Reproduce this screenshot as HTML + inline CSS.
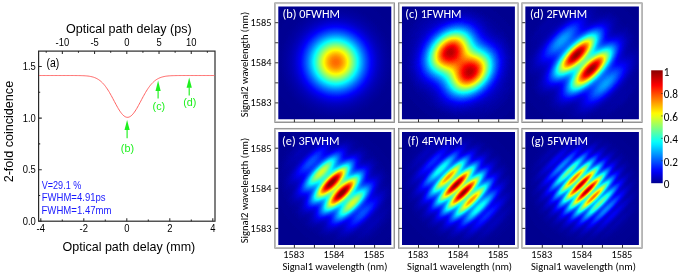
<!DOCTYPE html>
<html><head><meta charset="utf-8"><title>HOM dip and JSI</title><style>
html,body{margin:0;padding:0;background:#fff;width:681px;height:275px;overflow:hidden}
svg{display:block}
.ar{font-family:"Liberation Sans",Arial,Helvetica,sans-serif}
.cal{font-family:Carlito,Calibri,"Liberation Sans",sans-serif}
</style></head><body>
<svg width="681" height="275" viewBox="0 0 681 275">
<defs>
<filter id="jet0" x="0" y="0" width="1" height="1" color-interpolation-filters="sRGB"><feComponentTransfer><feFuncR type="table" tableValues="0 0 0 0 0 0 0 0 0 0 0 0 0 0 0 0 0 0 0 0 0 0 0 0 0 0 0 0 0 0 0 0 0 0 0 0 0 0 0 0 0 0 0 0 0 0 0.0156 0.0472 0.0787 0.1103 0.1419 0.1735 0.2051 0.2366 0.2682 0.2998 0.3314 0.3629 0.3945 0.4261 0.4577 0.4893 0.5208 0.5524 0.584 0.6156 0.6471 0.6787 0.7103 0.7419 0.7735 0.805 0.8366 0.8682 0.8998 0.9313 0.9629 0.9945 1 1 1 1 1 1 1 1 1 1 1 1 1 1 1 1 1 1 1"/><feFuncG type="table" tableValues="0 0 0 0 0 0 0 0 0 0 0 0 0 0 0.0051 0.0367 0.0682 0.0998 0.1314 0.163 0.1946 0.2261 0.2577 0.2893 0.3209 0.3524 0.384 0.4156 0.4472 0.4788 0.5103 0.5419 0.5735 0.6051 0.6366 0.6682 0.6998 0.7314 0.763 0.7945 0.8261 0.8577 0.8893 0.9208 0.9524 0.984 1 1 1 1 1 1 1 1 1 1 1 1 1 1 1 1 1 1 1 1 1 1 1 1 1 1 1 1 1 1 1 1 0.9739 0.9423 0.9108 0.8792 0.8476 0.816 0.7844 0.7529 0.7213 0.6897 0.6581 0.6266 0.595 0.5634 0.5318 0.5002 0.4687 0.4371 0.4055"/><feFuncB type="table" tableValues="0.5625 0.5941 0.6257 0.6573 0.689 0.7206 0.7522 0.7838 0.8154 0.847 0.8786 0.9103 0.9419 0.9735 1 1 1 1 1 1 1 1 1 1 1 1 1 1 1 1 1 1 1 1 1 1 1 1 1 1 1 1 1 1 1 1 0.9844 0.9528 0.9213 0.8897 0.8581 0.8265 0.7949 0.7634 0.7318 0.7002 0.6686 0.6371 0.6055 0.5739 0.5423 0.5107 0.4792 0.4476 0.416 0.3844 0.3529 0.3213 0.2897 0.2581 0.2265 0.195 0.1634 0.1318 0.1002 0.0687 0.0371 0.0055 0 0 0 0 0 0 0 0 0 0 0 0 0 0 0 0 0 0 0"/></feComponentTransfer></filter>
<radialGradient id="env0" gradientUnits="userSpaceOnUse" cx="0" cy="0" r="1" gradientTransform="translate(335.80 62.10) rotate(45) scale(66.19 66.19)"><stop offset="0.0000" stop-color="#ffffff"/><stop offset="0.0417" stop-color="#fcfcfc"/><stop offset="0.0833" stop-color="#f3f3f3"/><stop offset="0.1250" stop-color="#e5e5e5"/><stop offset="0.1667" stop-color="#d3d3d3"/><stop offset="0.2083" stop-color="#bebebe"/><stop offset="0.2500" stop-color="#a7a7a7"/><stop offset="0.2917" stop-color="#8f8f8f"/><stop offset="0.3333" stop-color="#787878"/><stop offset="0.3750" stop-color="#636363"/><stop offset="0.4167" stop-color="#4f4f4f"/><stop offset="0.4583" stop-color="#3e3e3e"/><stop offset="0.5000" stop-color="#2f2f2f"/><stop offset="0.5417" stop-color="#232323"/><stop offset="0.5833" stop-color="#1a1a1a"/><stop offset="0.6250" stop-color="#121212"/><stop offset="0.6667" stop-color="#0d0d0d"/><stop offset="0.7083" stop-color="#090909"/><stop offset="0.7500" stop-color="#060606"/><stop offset="0.7917" stop-color="#040404"/><stop offset="0.8333" stop-color="#020202"/><stop offset="0.8750" stop-color="#010101"/><stop offset="0.9167" stop-color="#010101"/><stop offset="0.9583" stop-color="#010101"/><stop offset="1.0000" stop-color="#000000"/></radialGradient>
<clipPath id="cp0"><rect x="278.3" y="6.6" width="113.0" height="112.6"/></clipPath>
<filter id="jet1" x="0" y="0" width="1" height="1" color-interpolation-filters="sRGB"><feComponentTransfer><feFuncR type="table" tableValues="0 0 0 0 0 0 0 0 0 0 0 0 0 0 0 0 0 0 0 0 0 0 0 0 0.0147 0.0752 0.1356 0.1961 0.2566 0.3171 0.3776 0.4381 0.4986 0.559 0.6195 0.68 0.7405 0.801 0.8615 0.922 0.9824 1 1 1 1 1 1 1 1 1 1 1 1 1 1 1 1 0.9906 0.9377 0.8848 0.8318 0.7789 0.726 0.6731 0.6201 0.5672 0.5625 0.5625 0.5625 0.5625 0.5625 0.5625 0.5625 0.5625 0.5625 0.5625 0.5625 0.5625 0.5625 0.5625 0.5625 0.5625 0.5625 0.5625 0.5625 0.5625 0.5625 0.5625 0.5625 0.5625 0.5625 0.5625 0.5625 0.5625 0.5625 0.5625 0.5625"/><feFuncG type="table" tableValues="0 0 0 0 0 0 0 0 0.0469 0.1074 0.1679 0.2283 0.2888 0.3493 0.4098 0.4703 0.5308 0.5913 0.6517 0.7122 0.7727 0.8332 0.8937 0.9542 1 1 1 1 1 1 1 1 1 1 1 1 1 1 1 1 1 0.9571 0.8966 0.8361 0.7756 0.7151 0.6546 0.5941 0.5337 0.4732 0.4127 0.3522 0.2917 0.2312 0.1707 0.1103 0.0498 0 0 0 0 0 0 0 0 0 0 0 0 0 0 0 0 0 0 0 0 0 0 0 0 0 0 0 0 0 0 0 0 0 0 0 0 0 0 0 0"/><feFuncB type="table" tableValues="0.5625 0.6231 0.6836 0.7442 0.8047 0.8653 0.9258 0.9864 1 1 1 1 1 1 1 1 1 1 1 1 1 1 1 1 0.9853 0.9248 0.8644 0.8039 0.7434 0.6829 0.6224 0.5619 0.5014 0.441 0.3805 0.32 0.2595 0.199 0.1385 0.078 0.0176 0 0 0 0 0 0 0 0 0 0 0 0 0 0 0 0 0 0 0 0 0 0 0 0 0 0 0 0 0 0 0 0 0 0 0 0 0 0 0 0 0 0 0 0 0 0 0 0 0 0 0 0 0 0 0 0"/></feComponentTransfer></filter>
<radialGradient id="env1" gradientUnits="userSpaceOnUse" cx="0" cy="0" r="1" gradientTransform="translate(460.05 62.10) rotate(45) scale(71.70 62.51)"><stop offset="0.0000" stop-color="#ffffff"/><stop offset="0.0417" stop-color="#fcfcfc"/><stop offset="0.0833" stop-color="#f3f3f3"/><stop offset="0.1250" stop-color="#e5e5e5"/><stop offset="0.1667" stop-color="#d3d3d3"/><stop offset="0.2083" stop-color="#bebebe"/><stop offset="0.2500" stop-color="#a7a7a7"/><stop offset="0.2917" stop-color="#8f8f8f"/><stop offset="0.3333" stop-color="#787878"/><stop offset="0.3750" stop-color="#636363"/><stop offset="0.4167" stop-color="#4f4f4f"/><stop offset="0.4583" stop-color="#3e3e3e"/><stop offset="0.5000" stop-color="#2f2f2f"/><stop offset="0.5417" stop-color="#232323"/><stop offset="0.5833" stop-color="#1a1a1a"/><stop offset="0.6250" stop-color="#121212"/><stop offset="0.6667" stop-color="#0d0d0d"/><stop offset="0.7083" stop-color="#090909"/><stop offset="0.7500" stop-color="#060606"/><stop offset="0.7917" stop-color="#040404"/><stop offset="0.8333" stop-color="#020202"/><stop offset="0.8750" stop-color="#010101"/><stop offset="0.9167" stop-color="#010101"/><stop offset="0.9583" stop-color="#010101"/><stop offset="1.0000" stop-color="#000000"/></radialGradient>
<clipPath id="cp1"><rect x="401.95" y="6.6" width="112.95" height="112.6"/></clipPath>
<linearGradient id="fr1" gradientUnits="userSpaceOnUse" spreadMethod="repeat" x1="460.05" y1="62.10" x2="492.93" y2="94.98"><stop offset="0.0000" stop-color="#898989"/><stop offset="0.0417" stop-color="#8b8b8b"/><stop offset="0.0833" stop-color="#919191"/><stop offset="0.1250" stop-color="#9b9b9b"/><stop offset="0.1667" stop-color="#a7a7a7"/><stop offset="0.2083" stop-color="#b5b5b5"/><stop offset="0.2500" stop-color="#c4c4c4"/><stop offset="0.2917" stop-color="#d3d3d3"/><stop offset="0.3333" stop-color="#e2e2e2"/><stop offset="0.3750" stop-color="#eeeeee"/><stop offset="0.4167" stop-color="#f7f7f7"/><stop offset="0.4583" stop-color="#fdfdfd"/><stop offset="0.5000" stop-color="#ffffff"/><stop offset="0.5417" stop-color="#fdfdfd"/><stop offset="0.5833" stop-color="#f7f7f7"/><stop offset="0.6250" stop-color="#eeeeee"/><stop offset="0.6667" stop-color="#e2e2e2"/><stop offset="0.7083" stop-color="#d3d3d3"/><stop offset="0.7500" stop-color="#c4c4c4"/><stop offset="0.7917" stop-color="#b5b5b5"/><stop offset="0.8333" stop-color="#a7a7a7"/><stop offset="0.8750" stop-color="#9b9b9b"/><stop offset="0.9167" stop-color="#919191"/><stop offset="0.9583" stop-color="#8b8b8b"/><stop offset="1.0000" stop-color="#898989"/></linearGradient>
<filter id="jet2" x="0" y="0" width="1" height="1" color-interpolation-filters="sRGB"><feComponentTransfer><feFuncR type="table" tableValues="0 0 0 0 0 0 0 0 0 0 0 0 0 0 0 0 0 0 0 0 0 0 0 0 0 0 0 0 0 0 0.0144 0.0628 0.1111 0.1595 0.2079 0.2563 0.3047 0.353 0.4014 0.4498 0.4982 0.5465 0.5949 0.6433 0.6917 0.7401 0.7884 0.8368 0.8852 0.9336 0.982 1 1 1 1 1 1 1 1 1 1 1 1 1 1 1 1 1 1 1 1 1 0.9595 0.9171 0.8748 0.8325 0.7902 0.7478 0.7055 0.6632 0.6208 0.5785 0.5625 0.5625 0.5625 0.5625 0.5625 0.5625 0.5625 0.5625 0.5625 0.5625 0.5625 0.5625 0.5625 0.5625 0.5625"/><feFuncG type="table" tableValues="0 0 0 0 0 0 0 0 0 0 0.0468 0.0952 0.1435 0.1919 0.2403 0.2887 0.3371 0.3854 0.4338 0.4822 0.5306 0.579 0.6273 0.6757 0.7241 0.7725 0.8209 0.8692 0.9176 0.966 1 1 1 1 1 1 1 1 1 1 1 1 1 1 1 1 1 1 1 1 1 0.9697 0.9213 0.8729 0.8245 0.7761 0.7278 0.6794 0.631 0.5826 0.5342 0.4859 0.4375 0.3891 0.3407 0.2923 0.244 0.1956 0.1472 0.0988 0.0504 0.0021 0 0 0 0 0 0 0 0 0 0 0 0 0 0 0 0 0 0 0 0 0 0 0 0 0"/><feFuncB type="table" tableValues="0.5625 0.6109 0.6594 0.7078 0.7562 0.8047 0.8531 0.9015 0.95 0.9984 1 1 1 1 1 1 1 1 1 1 1 1 1 1 1 1 1 1 1 1 0.9856 0.9372 0.8889 0.8405 0.7921 0.7437 0.6953 0.647 0.5986 0.5502 0.5018 0.4535 0.4051 0.3567 0.3083 0.2599 0.2116 0.1632 0.1148 0.0664 0.018 0 0 0 0 0 0 0 0 0 0 0 0 0 0 0 0 0 0 0 0 0 0 0 0 0 0 0 0 0 0 0 0 0 0 0 0 0 0 0 0 0 0 0 0 0 0"/></feComponentTransfer></filter>
<radialGradient id="env2" gradientUnits="userSpaceOnUse" cx="0" cy="0" r="1" gradientTransform="translate(583.75 62.10) rotate(45) scale(69.86 68.02)"><stop offset="0.0000" stop-color="#ffffff"/><stop offset="0.0417" stop-color="#fcfcfc"/><stop offset="0.0833" stop-color="#f3f3f3"/><stop offset="0.1250" stop-color="#e5e5e5"/><stop offset="0.1667" stop-color="#d3d3d3"/><stop offset="0.2083" stop-color="#bebebe"/><stop offset="0.2500" stop-color="#a7a7a7"/><stop offset="0.2917" stop-color="#8f8f8f"/><stop offset="0.3333" stop-color="#787878"/><stop offset="0.3750" stop-color="#636363"/><stop offset="0.4167" stop-color="#4f4f4f"/><stop offset="0.4583" stop-color="#3e3e3e"/><stop offset="0.5000" stop-color="#2f2f2f"/><stop offset="0.5417" stop-color="#232323"/><stop offset="0.5833" stop-color="#1a1a1a"/><stop offset="0.6250" stop-color="#121212"/><stop offset="0.6667" stop-color="#0d0d0d"/><stop offset="0.7083" stop-color="#090909"/><stop offset="0.7500" stop-color="#060606"/><stop offset="0.7917" stop-color="#040404"/><stop offset="0.8333" stop-color="#020202"/><stop offset="0.8750" stop-color="#010101"/><stop offset="0.9167" stop-color="#010101"/><stop offset="0.9583" stop-color="#010101"/><stop offset="1.0000" stop-color="#000000"/></radialGradient>
<clipPath id="cp2"><rect x="525.35" y="6.6" width="113.55" height="112.6"/></clipPath>
<linearGradient id="fr2" gradientUnits="userSpaceOnUse" spreadMethod="repeat" x1="583.75" y1="62.10" x2="600.15" y2="78.50"><stop offset="0.0000" stop-color="#686868"/><stop offset="0.0417" stop-color="#6b6b6b"/><stop offset="0.0833" stop-color="#727272"/><stop offset="0.1250" stop-color="#7e7e7e"/><stop offset="0.1667" stop-color="#8e8e8e"/><stop offset="0.2083" stop-color="#a0a0a0"/><stop offset="0.2500" stop-color="#b4b4b4"/><stop offset="0.2917" stop-color="#c7c7c7"/><stop offset="0.3333" stop-color="#d9d9d9"/><stop offset="0.3750" stop-color="#e9e9e9"/><stop offset="0.4167" stop-color="#f5f5f5"/><stop offset="0.4583" stop-color="#fcfcfc"/><stop offset="0.5000" stop-color="#ffffff"/><stop offset="0.5417" stop-color="#fcfcfc"/><stop offset="0.5833" stop-color="#f5f5f5"/><stop offset="0.6250" stop-color="#e9e9e9"/><stop offset="0.6667" stop-color="#d9d9d9"/><stop offset="0.7083" stop-color="#c7c7c7"/><stop offset="0.7500" stop-color="#b4b4b4"/><stop offset="0.7917" stop-color="#a0a0a0"/><stop offset="0.8333" stop-color="#8e8e8e"/><stop offset="0.8750" stop-color="#7e7e7e"/><stop offset="0.9167" stop-color="#727272"/><stop offset="0.9583" stop-color="#6b6b6b"/><stop offset="1.0000" stop-color="#686868"/></linearGradient>
<filter id="jet3" x="0" y="0" width="1" height="1" color-interpolation-filters="sRGB"><feComponentTransfer><feFuncR type="table" tableValues="0 0 0 0 0 0 0 0 0 0 0 0 0 0 0 0 0 0 0 0 0 0 0 0 0 0 0 0 0 0 0 0 0.0136 0.059 0.1043 0.1496 0.195 0.2403 0.2856 0.331 0.3763 0.4216 0.467 0.5123 0.5576 0.603 0.6483 0.6936 0.739 0.7843 0.8296 0.875 0.9203 0.9656 1 1 1 1 1 1 1 1 1 1 1 1 1 1 1 1 1 1 1 1 1 1 0.9928 0.9531 0.9134 0.8738 0.8341 0.7944 0.7548 0.7151 0.6754 0.6358 0.5961 0.5625 0.5625 0.5625 0.5625 0.5625 0.5625 0.5625 0.5625 0.5625 0.5625"/><feFuncG type="table" tableValues="0 0 0 0 0 0 0 0 0 0 0.0163 0.0617 0.107 0.1523 0.1977 0.243 0.2883 0.3336 0.379 0.4243 0.4696 0.515 0.5603 0.6056 0.651 0.6963 0.7416 0.787 0.8323 0.8776 0.923 0.9683 1 1 1 1 1 1 1 1 1 1 1 1 1 1 1 1 1 1 1 1 1 1 0.989 0.9437 0.8984 0.853 0.8077 0.7624 0.717 0.6717 0.6264 0.581 0.5357 0.4904 0.445 0.3997 0.3544 0.309 0.2637 0.2184 0.173 0.1277 0.0824 0.0371 0 0 0 0 0 0 0 0 0 0 0 0 0 0 0 0 0 0 0 0 0"/><feFuncB type="table" tableValues="0.5625 0.6079 0.6533 0.6987 0.744 0.7894 0.8348 0.8802 0.9256 0.971 1 1 1 1 1 1 1 1 1 1 1 1 1 1 1 1 1 1 1 1 1 1 0.9864 0.941 0.8957 0.8504 0.805 0.7597 0.7144 0.669 0.6237 0.5784 0.533 0.4877 0.4424 0.397 0.3517 0.3064 0.261 0.2157 0.1704 0.125 0.0797 0.0344 0 0 0 0 0 0 0 0 0 0 0 0 0 0 0 0 0 0 0 0 0 0 0 0 0 0 0 0 0 0 0 0 0 0 0 0 0 0 0 0 0 0 0"/></feComponentTransfer></filter>
<radialGradient id="env3" gradientUnits="userSpaceOnUse" cx="0" cy="0" r="1" gradientTransform="translate(336.90 187.60) rotate(45) scale(73.54 58.83)"><stop offset="0.0000" stop-color="#ffffff"/><stop offset="0.0417" stop-color="#fcfcfc"/><stop offset="0.0833" stop-color="#f3f3f3"/><stop offset="0.1250" stop-color="#e5e5e5"/><stop offset="0.1667" stop-color="#d3d3d3"/><stop offset="0.2083" stop-color="#bebebe"/><stop offset="0.2500" stop-color="#a7a7a7"/><stop offset="0.2917" stop-color="#8f8f8f"/><stop offset="0.3333" stop-color="#787878"/><stop offset="0.3750" stop-color="#636363"/><stop offset="0.4167" stop-color="#4f4f4f"/><stop offset="0.4583" stop-color="#3e3e3e"/><stop offset="0.5000" stop-color="#2f2f2f"/><stop offset="0.5417" stop-color="#232323"/><stop offset="0.5833" stop-color="#1a1a1a"/><stop offset="0.6250" stop-color="#121212"/><stop offset="0.6667" stop-color="#0d0d0d"/><stop offset="0.7083" stop-color="#090909"/><stop offset="0.7500" stop-color="#060606"/><stop offset="0.7917" stop-color="#040404"/><stop offset="0.8333" stop-color="#020202"/><stop offset="0.8750" stop-color="#010101"/><stop offset="0.9167" stop-color="#010101"/><stop offset="0.9583" stop-color="#010101"/><stop offset="1.0000" stop-color="#000000"/></radialGradient>
<clipPath id="cp3"><rect x="278.3" y="132.1" width="113.0" height="112.8"/></clipPath>
<linearGradient id="fr3" gradientUnits="userSpaceOnUse" spreadMethod="repeat" x1="336.90" y1="187.60" x2="347.86" y2="198.56"><stop offset="0.0000" stop-color="#838383"/><stop offset="0.0417" stop-color="#858585"/><stop offset="0.0833" stop-color="#8c8c8c"/><stop offset="0.1250" stop-color="#959595"/><stop offset="0.1667" stop-color="#a2a2a2"/><stop offset="0.2083" stop-color="#b1b1b1"/><stop offset="0.2500" stop-color="#c1c1c1"/><stop offset="0.2917" stop-color="#d1d1d1"/><stop offset="0.3333" stop-color="#e0e0e0"/><stop offset="0.3750" stop-color="#ededed"/><stop offset="0.4167" stop-color="#f7f7f7"/><stop offset="0.4583" stop-color="#fdfdfd"/><stop offset="0.5000" stop-color="#ffffff"/><stop offset="0.5417" stop-color="#fdfdfd"/><stop offset="0.5833" stop-color="#f7f7f7"/><stop offset="0.6250" stop-color="#ededed"/><stop offset="0.6667" stop-color="#e0e0e0"/><stop offset="0.7083" stop-color="#d1d1d1"/><stop offset="0.7500" stop-color="#c1c1c1"/><stop offset="0.7917" stop-color="#b1b1b1"/><stop offset="0.8333" stop-color="#a2a2a2"/><stop offset="0.8750" stop-color="#959595"/><stop offset="0.9167" stop-color="#8c8c8c"/><stop offset="0.9583" stop-color="#858585"/><stop offset="1.0000" stop-color="#838383"/></linearGradient>
<filter id="jet4" x="0" y="0" width="1" height="1" color-interpolation-filters="sRGB"><feComponentTransfer><feFuncR type="table" tableValues="0 0 0 0 0 0 0 0 0 0 0 0 0 0 0 0 0 0 0 0 0 0 0 0 0 0 0 0 0 0 0 0 0 0 0.0138 0.0565 0.0992 0.1418 0.1845 0.2272 0.2698 0.3125 0.3552 0.3978 0.4405 0.4832 0.5259 0.5685 0.6112 0.6539 0.6965 0.7392 0.7819 0.8246 0.8672 0.9099 0.9526 0.9952 1 1 1 1 1 1 1 1 1 1 1 1 1 1 1 1 1 1 1 1 1 1 1 0.9831 0.9457 0.9084 0.8711 0.8337 0.7964 0.759 0.7217 0.6844 0.647 0.6097 0.5724 0.5625 0.5625 0.5625 0.5625"/><feFuncG type="table" tableValues="0 0 0 0 0 0 0 0 0 0 0 0.0324 0.075 0.1177 0.1604 0.2031 0.2457 0.2884 0.3311 0.3737 0.4164 0.4591 0.5018 0.5444 0.5871 0.6298 0.6724 0.7151 0.7578 0.8005 0.8431 0.8858 0.9285 0.9711 1 1 1 1 1 1 1 1 1 1 1 1 1 1 1 1 1 1 1 1 1 1 1 1 0.9621 0.9194 0.8767 0.8341 0.7914 0.7487 0.7061 0.6634 0.6207 0.578 0.5354 0.4927 0.45 0.4074 0.3647 0.322 0.2793 0.2367 0.194 0.1513 0.1087 0.066 0.0233 0 0 0 0 0 0 0 0 0 0 0 0 0 0 0 0"/><feFuncB type="table" tableValues="0.5625 0.6052 0.6479 0.6907 0.7334 0.7761 0.8188 0.8615 0.9043 0.947 0.9897 1 1 1 1 1 1 1 1 1 1 1 1 1 1 1 1 1 1 1 1 1 1 1 0.9862 0.9435 0.9008 0.8582 0.8155 0.7728 0.7302 0.6875 0.6448 0.6022 0.5595 0.5168 0.4741 0.4315 0.3888 0.3461 0.3035 0.2608 0.2181 0.1754 0.1328 0.0901 0.0474 0.0048 0 0 0 0 0 0 0 0 0 0 0 0 0 0 0 0 0 0 0 0 0 0 0 0 0 0 0 0 0 0 0 0 0 0 0 0 0 0 0"/></feComponentTransfer></filter>
<radialGradient id="env4" gradientUnits="userSpaceOnUse" cx="0" cy="0" r="1" gradientTransform="translate(459.95 188.50) rotate(45) scale(72.44 61.77)"><stop offset="0.0000" stop-color="#ffffff"/><stop offset="0.0417" stop-color="#fcfcfc"/><stop offset="0.0833" stop-color="#f3f3f3"/><stop offset="0.1250" stop-color="#e5e5e5"/><stop offset="0.1667" stop-color="#d3d3d3"/><stop offset="0.2083" stop-color="#bebebe"/><stop offset="0.2500" stop-color="#a7a7a7"/><stop offset="0.2917" stop-color="#8f8f8f"/><stop offset="0.3333" stop-color="#787878"/><stop offset="0.3750" stop-color="#636363"/><stop offset="0.4167" stop-color="#4f4f4f"/><stop offset="0.4583" stop-color="#3e3e3e"/><stop offset="0.5000" stop-color="#2f2f2f"/><stop offset="0.5417" stop-color="#232323"/><stop offset="0.5833" stop-color="#1a1a1a"/><stop offset="0.6250" stop-color="#121212"/><stop offset="0.6667" stop-color="#0d0d0d"/><stop offset="0.7083" stop-color="#090909"/><stop offset="0.7500" stop-color="#060606"/><stop offset="0.7917" stop-color="#040404"/><stop offset="0.8333" stop-color="#020202"/><stop offset="0.8750" stop-color="#010101"/><stop offset="0.9167" stop-color="#010101"/><stop offset="0.9583" stop-color="#010101"/><stop offset="1.0000" stop-color="#000000"/></radialGradient>
<clipPath id="cp4"><rect x="401.95" y="132.1" width="112.95" height="112.8"/></clipPath>
<linearGradient id="fr4" gradientUnits="userSpaceOnUse" spreadMethod="repeat" x1="459.95" y1="188.50" x2="467.94" y2="196.49"><stop offset="0.0000" stop-color="#898989"/><stop offset="0.0417" stop-color="#8b8b8b"/><stop offset="0.0833" stop-color="#919191"/><stop offset="0.1250" stop-color="#9b9b9b"/><stop offset="0.1667" stop-color="#a7a7a7"/><stop offset="0.2083" stop-color="#b5b5b5"/><stop offset="0.2500" stop-color="#c4c4c4"/><stop offset="0.2917" stop-color="#d3d3d3"/><stop offset="0.3333" stop-color="#e2e2e2"/><stop offset="0.3750" stop-color="#eeeeee"/><stop offset="0.4167" stop-color="#f7f7f7"/><stop offset="0.4583" stop-color="#fdfdfd"/><stop offset="0.5000" stop-color="#ffffff"/><stop offset="0.5417" stop-color="#fdfdfd"/><stop offset="0.5833" stop-color="#f7f7f7"/><stop offset="0.6250" stop-color="#eeeeee"/><stop offset="0.6667" stop-color="#e2e2e2"/><stop offset="0.7083" stop-color="#d3d3d3"/><stop offset="0.7500" stop-color="#c4c4c4"/><stop offset="0.7917" stop-color="#b5b5b5"/><stop offset="0.8333" stop-color="#a7a7a7"/><stop offset="0.8750" stop-color="#9b9b9b"/><stop offset="0.9167" stop-color="#919191"/><stop offset="0.9583" stop-color="#8b8b8b"/><stop offset="1.0000" stop-color="#898989"/></linearGradient>
<filter id="jet5" x="0" y="0" width="1" height="1" color-interpolation-filters="sRGB"><feComponentTransfer><feFuncR type="table" tableValues="0 0 0 0 0 0 0 0 0 0 0 0 0 0 0 0 0 0 0 0 0 0 0 0 0 0 0 0 0 0 0 0 0 0 0 0 0.0219 0.0624 0.1029 0.1434 0.184 0.2245 0.265 0.3055 0.3461 0.3866 0.4271 0.4676 0.5082 0.5487 0.5892 0.6297 0.6702 0.7108 0.7513 0.7918 0.8323 0.8729 0.9134 0.9539 0.9944 1 1 1 1 1 1 1 1 1 1 1 1 1 1 1 1 1 1 1 1 1 1 1 1 0.9934 0.9579 0.9225 0.887 0.8516 0.8161 0.7806 0.7452 0.7097 0.6743 0.6388 0.6034"/><feFuncG type="table" tableValues="0 0 0 0 0 0 0 0 0 0 0 0.0088 0.0493 0.0898 0.1303 0.1709 0.2114 0.2519 0.2924 0.333 0.3735 0.414 0.4545 0.495 0.5356 0.5761 0.6166 0.6571 0.6977 0.7382 0.7787 0.8192 0.8598 0.9003 0.9408 0.9813 1 1 1 1 1 1 1 1 1 1 1 1 1 1 1 1 1 1 1 1 1 1 1 1 1 0.965 0.9245 0.884 0.8435 0.8029 0.7624 0.7219 0.6814 0.6408 0.6003 0.5598 0.5193 0.4787 0.4382 0.3977 0.3572 0.3166 0.2761 0.2356 0.1951 0.1546 0.114 0.0735 0.033 0 0 0 0 0 0 0 0 0 0 0 0"/><feFuncB type="table" tableValues="0.5625 0.6031 0.6436 0.6842 0.7248 0.7653 0.8059 0.8465 0.8871 0.9276 0.9682 1 1 1 1 1 1 1 1 1 1 1 1 1 1 1 1 1 1 1 1 1 1 1 1 1 0.9781 0.9376 0.8971 0.8566 0.816 0.7755 0.735 0.6945 0.6539 0.6134 0.5729 0.5324 0.4918 0.4513 0.4108 0.3703 0.3298 0.2892 0.2487 0.2082 0.1677 0.1271 0.0866 0.0461 0.0056 0 0 0 0 0 0 0 0 0 0 0 0 0 0 0 0 0 0 0 0 0 0 0 0 0 0 0 0 0 0 0 0 0 0 0 0"/></feComponentTransfer></filter>
<radialGradient id="env5" gradientUnits="userSpaceOnUse" cx="0" cy="0" r="1" gradientTransform="translate(584.05 187.60) rotate(45) scale(68.76 62.51)"><stop offset="0.0000" stop-color="#ffffff"/><stop offset="0.0417" stop-color="#fcfcfc"/><stop offset="0.0833" stop-color="#f3f3f3"/><stop offset="0.1250" stop-color="#e5e5e5"/><stop offset="0.1667" stop-color="#d3d3d3"/><stop offset="0.2083" stop-color="#bebebe"/><stop offset="0.2500" stop-color="#a7a7a7"/><stop offset="0.2917" stop-color="#8f8f8f"/><stop offset="0.3333" stop-color="#787878"/><stop offset="0.3750" stop-color="#636363"/><stop offset="0.4167" stop-color="#4f4f4f"/><stop offset="0.4583" stop-color="#3e3e3e"/><stop offset="0.5000" stop-color="#2f2f2f"/><stop offset="0.5417" stop-color="#232323"/><stop offset="0.5833" stop-color="#1a1a1a"/><stop offset="0.6250" stop-color="#121212"/><stop offset="0.6667" stop-color="#0d0d0d"/><stop offset="0.7083" stop-color="#090909"/><stop offset="0.7500" stop-color="#060606"/><stop offset="0.7917" stop-color="#040404"/><stop offset="0.8333" stop-color="#020202"/><stop offset="0.8750" stop-color="#010101"/><stop offset="0.9167" stop-color="#010101"/><stop offset="0.9583" stop-color="#010101"/><stop offset="1.0000" stop-color="#000000"/></radialGradient>
<clipPath id="cp5"><rect x="525.35" y="132.1" width="113.55" height="112.8"/></clipPath>
<linearGradient id="fr5" gradientUnits="userSpaceOnUse" spreadMethod="repeat" x1="584.05" y1="187.60" x2="590.48" y2="194.03"><stop offset="0.0000" stop-color="#838383"/><stop offset="0.0417" stop-color="#858585"/><stop offset="0.0833" stop-color="#8c8c8c"/><stop offset="0.1250" stop-color="#959595"/><stop offset="0.1667" stop-color="#a2a2a2"/><stop offset="0.2083" stop-color="#b1b1b1"/><stop offset="0.2500" stop-color="#c1c1c1"/><stop offset="0.2917" stop-color="#d1d1d1"/><stop offset="0.3333" stop-color="#e0e0e0"/><stop offset="0.3750" stop-color="#ededed"/><stop offset="0.4167" stop-color="#f7f7f7"/><stop offset="0.4583" stop-color="#fdfdfd"/><stop offset="0.5000" stop-color="#ffffff"/><stop offset="0.5417" stop-color="#fdfdfd"/><stop offset="0.5833" stop-color="#f7f7f7"/><stop offset="0.6250" stop-color="#ededed"/><stop offset="0.6667" stop-color="#e0e0e0"/><stop offset="0.7083" stop-color="#d1d1d1"/><stop offset="0.7500" stop-color="#c1c1c1"/><stop offset="0.7917" stop-color="#b1b1b1"/><stop offset="0.8333" stop-color="#a2a2a2"/><stop offset="0.8750" stop-color="#959595"/><stop offset="0.9167" stop-color="#8c8c8c"/><stop offset="0.9583" stop-color="#858585"/><stop offset="1.0000" stop-color="#838383"/></linearGradient>
<linearGradient id="cbar" gradientUnits="userSpaceOnUse" x1="0" y1="71.1" x2="0" y2="183.2"><stop offset="0.0000" stop-color="#8f0000"/><stop offset="0.0312" stop-color="#ab0000"/><stop offset="0.0625" stop-color="#c60000"/><stop offset="0.0938" stop-color="#e20000"/><stop offset="0.1250" stop-color="#fd0000"/><stop offset="0.1562" stop-color="#ff1d00"/><stop offset="0.1875" stop-color="#ff3d00"/><stop offset="0.2188" stop-color="#ff5c00"/><stop offset="0.2500" stop-color="#ff7b00"/><stop offset="0.2812" stop-color="#ff9b00"/><stop offset="0.3125" stop-color="#ffba00"/><stop offset="0.3438" stop-color="#ffda00"/><stop offset="0.3750" stop-color="#fff900"/><stop offset="0.4062" stop-color="#e6ff19"/><stop offset="0.4375" stop-color="#c6ff39"/><stop offset="0.4688" stop-color="#a7ff58"/><stop offset="0.5000" stop-color="#88ff77"/><stop offset="0.5312" stop-color="#68ff97"/><stop offset="0.5625" stop-color="#49ffb6"/><stop offset="0.5938" stop-color="#29ffd6"/><stop offset="0.6250" stop-color="#0afff5"/><stop offset="0.6562" stop-color="#00eaff"/><stop offset="0.6875" stop-color="#00caff"/><stop offset="0.7188" stop-color="#00abff"/><stop offset="0.7500" stop-color="#008cff"/><stop offset="0.7812" stop-color="#006cff"/><stop offset="0.8125" stop-color="#004dff"/><stop offset="0.8438" stop-color="#002dff"/><stop offset="0.8750" stop-color="#000eff"/><stop offset="0.9062" stop-color="#0000ee"/><stop offset="0.9375" stop-color="#0000ce"/><stop offset="0.9688" stop-color="#0000af"/><stop offset="1.0000" stop-color="#00008f"/></linearGradient>
</defs>
<rect width="681" height="275" fill="#fff"/>
<rect x="38.6" y="51.1" width="176.40" height="170.10" fill="none" stroke="#2a2a2a" stroke-width="1.2"/>
<path d="M40.80 221.2v-3.0M62.30 221.2v-1.6M83.80 221.2v-3.0M105.30 221.2v-1.6M126.80 221.2v-3.0M148.30 221.2v-1.6M169.80 221.2v-3.0M191.30 221.2v-1.6M212.80 221.2v-3.0M46.23 51.1v1.6M62.35 51.1v3.0M78.46 51.1v1.6M94.57 51.1v3.0M110.69 51.1v1.6M126.80 51.1v3.0M142.91 51.1v1.6M159.03 51.1v3.0M175.14 51.1v1.6M191.25 51.1v3.0M207.37 51.1v1.6M38.6 221.20h3.2M38.6 195.42h1.6M38.6 169.65h3.2M38.6 143.88h1.6M38.6 118.10h3.2M38.6 92.32h1.6M38.6 66.55h3.2" stroke="#2a2a2a" stroke-width="1.05" fill="none"/>
<text transform="translate(40.80 232.00) scale(0.915 1)" class="ar" font-size="10.3" text-anchor="middle">-4</text>
<text transform="translate(83.80 232.00) scale(0.915 1)" class="ar" font-size="10.3" text-anchor="middle">-2</text>
<text transform="translate(126.80 232.00) scale(0.915 1)" class="ar" font-size="10.3" text-anchor="middle">0</text>
<text transform="translate(169.80 232.00) scale(0.915 1)" class="ar" font-size="10.3" text-anchor="middle">2</text>
<text transform="translate(212.80 232.00) scale(0.915 1)" class="ar" font-size="10.3" text-anchor="middle">4</text>
<text transform="translate(62.35 45.90) scale(0.915 1)" class="ar" font-size="10.3" text-anchor="middle">-10</text>
<text transform="translate(94.57 45.90) scale(0.915 1)" class="ar" font-size="10.3" text-anchor="middle">-5</text>
<text transform="translate(126.80 45.90) scale(0.915 1)" class="ar" font-size="10.3" text-anchor="middle">0</text>
<text transform="translate(159.03 45.90) scale(0.915 1)" class="ar" font-size="10.3" text-anchor="middle">5</text>
<text transform="translate(191.25 45.90) scale(0.915 1)" class="ar" font-size="10.3" text-anchor="middle">10</text>
<text transform="translate(35.80 224.80) scale(0.915 1)" class="ar" font-size="10.3" text-anchor="end">0.0</text>
<text transform="translate(35.80 173.25) scale(0.915 1)" class="ar" font-size="10.3" text-anchor="end">0.5</text>
<text transform="translate(35.80 121.70) scale(0.915 1)" class="ar" font-size="10.3" text-anchor="end">1.0</text>
<text transform="translate(35.80 70.15) scale(0.915 1)" class="ar" font-size="10.3" text-anchor="end">1.5</text>
<text x="128.8" y="33.3" class="ar" font-size="13.2" text-anchor="middle" textLength="125.6" lengthAdjust="spacingAndGlyphs">Optical path delay (ps)</text>
<text x="128.9" y="250.7" class="ar" font-size="13.2" text-anchor="middle" textLength="132.8" lengthAdjust="spacingAndGlyphs">Optical path delay (mm)</text>
<text transform="translate(13.3 131.6) rotate(-90)" class="ar" font-size="13.2" text-anchor="middle" textLength="101.5" lengthAdjust="spacingAndGlyphs">2-fold coincidence</text>
<text x="46.5" y="66.9" class="ar" font-size="12" textLength="12.8" lengthAdjust="spacingAndGlyphs">(a)</text>
<polyline points="39.20,75.52 40.00,75.52 40.80,75.52 41.60,75.52 42.40,75.52 43.20,75.52 44.00,75.52 44.80,75.52 45.60,75.52 46.40,75.52 47.20,75.52 48.00,75.52 48.80,75.52 49.60,75.52 50.40,75.52 51.20,75.52 52.00,75.52 52.80,75.52 53.60,75.52 54.40,75.52 55.20,75.52 56.00,75.52 56.80,75.52 57.60,75.52 58.40,75.52 59.20,75.52 60.00,75.52 60.80,75.52 61.60,75.52 62.40,75.52 63.20,75.52 64.00,75.52 64.80,75.52 65.60,75.52 66.40,75.52 67.20,75.52 68.00,75.52 68.80,75.52 69.60,75.52 70.40,75.52 71.20,75.53 72.00,75.53 72.80,75.53 73.60,75.53 74.40,75.54 75.20,75.54 76.00,75.55 76.80,75.55 77.60,75.56 78.40,75.57 79.20,75.58 80.00,75.60 80.80,75.62 81.60,75.64 82.40,75.67 83.20,75.70 84.00,75.74 84.80,75.78 85.60,75.84 86.40,75.90 87.20,75.98 88.00,76.07 88.80,76.17 89.60,76.30 90.40,76.44 91.20,76.60 92.00,76.78 92.80,77.00 93.60,77.24 94.40,77.52 95.20,77.83 96.00,78.18 96.80,78.58 97.60,79.02 98.40,79.51 99.20,80.05 100.00,80.64 100.80,81.30 101.60,82.02 102.40,82.79 103.20,83.64 104.00,84.55 104.80,85.52 105.60,86.56 106.40,87.67 107.20,88.84 108.00,90.07 108.80,91.36 109.60,92.70 110.40,94.09 111.20,95.52 112.00,96.98 112.80,98.47 113.60,99.98 114.40,101.49 115.20,102.99 116.00,104.48 116.80,105.95 117.60,107.37 118.40,108.74 119.20,110.05 120.00,111.29 120.80,112.43 121.60,113.48 122.40,114.42 123.20,115.24 124.00,115.93 124.80,116.49 125.60,116.91 126.40,117.19 127.20,117.32 128.00,117.30 128.80,117.13 129.60,116.82 130.40,116.37 131.20,115.77 132.00,115.04 132.80,114.19 133.60,113.23 134.40,112.15 135.20,110.99 136.00,109.73 136.80,108.41 137.60,107.02 138.40,105.58 139.20,104.11 140.00,102.62 140.80,101.11 141.60,99.60 142.40,98.10 143.20,96.61 144.00,95.16 144.80,93.74 145.60,92.36 146.40,91.03 147.20,89.76 148.00,88.54 148.80,87.39 149.60,86.30 150.40,85.27 151.20,84.31 152.00,83.42 152.80,82.59 153.60,81.83 154.40,81.13 155.20,80.49 156.00,79.91 156.80,79.38 157.60,78.90 158.40,78.47 159.20,78.09 160.00,77.75 160.80,77.45 161.60,77.18 162.40,76.94 163.20,76.74 164.00,76.56 164.80,76.40 165.60,76.26 166.40,76.15 167.20,76.05 168.00,75.96 168.80,75.89 169.60,75.82 170.40,75.77 171.20,75.73 172.00,75.69 172.80,75.66 173.60,75.63 174.40,75.61 175.20,75.60 176.00,75.58 176.80,75.57 177.60,75.56 178.40,75.55 179.20,75.54 180.00,75.54 180.80,75.54 181.60,75.53 182.40,75.53 183.20,75.53 184.00,75.53 184.80,75.52 185.60,75.52 186.40,75.52 187.20,75.52 188.00,75.52 188.80,75.52 189.60,75.52 190.40,75.52 191.20,75.52 192.00,75.52 192.80,75.52 193.60,75.52 194.40,75.52 195.20,75.52 196.00,75.52 196.80,75.52 197.60,75.52 198.40,75.52 199.20,75.52 200.00,75.52 200.80,75.52 201.60,75.52 202.40,75.52 203.20,75.52 204.00,75.52 204.80,75.52 205.60,75.52 206.40,75.52 207.20,75.52 208.00,75.52 208.80,75.52 209.60,75.52 210.40,75.52 211.20,75.52 212.00,75.52 212.80,75.52 213.60,75.52 214.40,75.52" fill="none" stroke="#ff5a5a" stroke-width="0.95"/>
<path d="M127.10 129.50V138.20" stroke="#1ef01e" stroke-width="1.15"/><path d="M127.10 120.10L124.50 130.10H129.70Z" fill="#1ef01e"/>
<path d="M158.10 90.50V98.60" stroke="#1ef01e" stroke-width="1.15"/><path d="M158.10 80.60L155.50 91.10H160.70Z" fill="#1ef01e"/>
<path d="M189.20 87.20V95.40" stroke="#1ef01e" stroke-width="1.15"/><path d="M189.20 77.40L186.60 87.80H191.80Z" fill="#1ef01e"/>
<text x="127.4" y="151.9" class="ar" font-size="10.8" fill="#1ef01e" text-anchor="middle">(b)</text>
<text x="158.9" y="110.1" class="ar" font-size="10.8" fill="#1ef01e" text-anchor="middle">(c)</text>
<text x="189.8" y="105.9" class="ar" font-size="10.8" fill="#1ef01e" text-anchor="middle">(d)</text>
<text x="41.7" y="188.8" class="ar" font-size="10.6" fill="#1a1aff" textLength="39.6" lengthAdjust="spacingAndGlyphs">V=29.1 %</text>
<text x="41.7" y="201.2" class="ar" font-size="10.6" fill="#1a1aff" textLength="63.9" lengthAdjust="spacingAndGlyphs">FWHM=4.91ps</text>
<text x="41.5" y="213.5" class="ar" font-size="10.6" fill="#1a1aff" textLength="70.0" lengthAdjust="spacingAndGlyphs">FWHM=1.47mm</text>
<g clip-path="url(#cp0)"><g filter="url(#jet0)"><rect x="275.30" y="3.60" width="119.00" height="118.60" fill="url(#env0)"/>
</g></g>
<rect x="274.80" y="2.90" width="119.75" height="119.60" fill="none" stroke="#7e7e7e" stroke-width="0.85"/>
<rect x="275.60" y="3.70" width="118.15" height="118.00" fill="none" stroke="#b6b6b6" stroke-width="0.8"/>
<path d="M275.20 102.90H278.30M294.40 119.20V122.10M275.20 82.85H278.30M314.45 119.20V122.10M275.20 62.80H278.30M334.50 119.20V122.10M275.20 42.75H278.30M354.55 119.20V122.10M275.20 22.70H278.30M374.60 119.20V122.10" stroke="#1a1a1a" stroke-width="0.9" fill="none"/>
<text x="282.60" y="17.90" class="cal" font-size="12" fill="#fff" textLength="57.40" lengthAdjust="spacingAndGlyphs">(b) 0FWHM</text>
<g clip-path="url(#cp1)"><g filter="url(#jet1)"><rect x="398.95" y="3.60" width="118.95" height="118.60" fill="url(#env1)"/>
<rect x="398.95" y="3.60" width="118.95" height="118.60" fill="url(#fr1)" style="mix-blend-mode:multiply"/>
</g></g>
<rect x="398.45" y="2.90" width="119.70" height="119.60" fill="none" stroke="#7e7e7e" stroke-width="0.85"/>
<rect x="399.25" y="3.70" width="118.10" height="118.00" fill="none" stroke="#b6b6b6" stroke-width="0.8"/>
<path d="M398.85 102.90H401.95M418.50 119.20V122.10M398.85 82.85H401.95M438.55 119.20V122.10M398.85 62.80H401.95M458.60 119.20V122.10M398.85 42.75H401.95M478.65 119.20V122.10M398.85 22.70H401.95M498.70 119.20V122.10" stroke="#1a1a1a" stroke-width="0.9" fill="none"/>
<text x="405.30" y="17.90" class="cal" font-size="12" fill="#fff" textLength="56.20" lengthAdjust="spacingAndGlyphs">(c) 1FWHM</text>
<g clip-path="url(#cp2)"><g filter="url(#jet2)"><rect x="522.35" y="3.60" width="119.55" height="118.60" fill="url(#env2)"/>
<rect x="522.35" y="3.60" width="119.55" height="118.60" fill="url(#fr2)" style="mix-blend-mode:multiply"/>
</g></g>
<rect x="521.85" y="2.90" width="120.30" height="119.60" fill="none" stroke="#7e7e7e" stroke-width="0.85"/>
<rect x="522.65" y="3.70" width="118.70" height="118.00" fill="none" stroke="#b6b6b6" stroke-width="0.8"/>
<path d="M522.25 102.90H525.35M542.30 119.20V122.10M522.25 82.85H525.35M562.35 119.20V122.10M522.25 62.80H525.35M582.40 119.20V122.10M522.25 42.75H525.35M602.45 119.20V122.10M522.25 22.70H525.35M622.50 119.20V122.10" stroke="#1a1a1a" stroke-width="0.9" fill="none"/>
<text x="529.90" y="17.90" class="cal" font-size="12" fill="#fff" textLength="57.20" lengthAdjust="spacingAndGlyphs">(d) 2FWHM</text>
<g clip-path="url(#cp3)"><g filter="url(#jet3)"><rect x="275.30" y="129.10" width="119.00" height="118.80" fill="url(#env3)"/>
<rect x="275.30" y="129.10" width="119.00" height="118.80" fill="url(#fr3)" style="mix-blend-mode:multiply"/>
</g></g>
<rect x="274.80" y="128.40" width="119.75" height="119.80" fill="none" stroke="#7e7e7e" stroke-width="0.85"/>
<rect x="275.60" y="129.20" width="118.15" height="118.20" fill="none" stroke="#b6b6b6" stroke-width="0.8"/>
<path d="M275.20 228.40H278.30M294.40 244.90V247.80M275.20 208.35H278.30M314.45 244.90V247.80M275.20 188.30H278.30M334.50 244.90V247.80M275.20 168.25H278.30M354.55 244.90V247.80M275.20 148.20H278.30M374.60 244.90V247.80" stroke="#1a1a1a" stroke-width="0.9" fill="none"/>
<text x="282.10" y="144.50" class="cal" font-size="12" fill="#fff" textLength="57.40" lengthAdjust="spacingAndGlyphs">(e) 3FWHM</text>
<g clip-path="url(#cp4)"><g filter="url(#jet4)"><rect x="398.95" y="129.10" width="118.95" height="118.80" fill="url(#env4)"/>
<rect x="398.95" y="129.10" width="118.95" height="118.80" fill="url(#fr4)" style="mix-blend-mode:multiply"/>
</g></g>
<rect x="398.45" y="128.40" width="119.70" height="119.80" fill="none" stroke="#7e7e7e" stroke-width="0.85"/>
<rect x="399.25" y="129.20" width="118.10" height="118.20" fill="none" stroke="#b6b6b6" stroke-width="0.8"/>
<path d="M398.85 228.40H401.95M418.50 244.90V247.80M398.85 208.35H401.95M438.55 244.90V247.80M398.85 188.30H401.95M458.60 244.90V247.80M398.85 168.25H401.95M478.65 244.90V247.80M398.85 148.20H401.95M498.70 244.90V247.80" stroke="#1a1a1a" stroke-width="0.9" fill="none"/>
<text x="407.60" y="144.60" class="cal" font-size="12" fill="#fff" textLength="54.90" lengthAdjust="spacingAndGlyphs">(f) 4FWHM</text>
<g clip-path="url(#cp5)"><g filter="url(#jet5)"><rect x="522.35" y="129.10" width="119.55" height="118.80" fill="url(#env5)"/>
<rect x="522.35" y="129.10" width="119.55" height="118.80" fill="url(#fr5)" style="mix-blend-mode:multiply"/>
</g></g>
<rect x="521.85" y="128.40" width="120.30" height="119.80" fill="none" stroke="#7e7e7e" stroke-width="0.85"/>
<rect x="522.65" y="129.20" width="118.70" height="118.20" fill="none" stroke="#b6b6b6" stroke-width="0.8"/>
<path d="M522.25 228.40H525.35M542.30 244.90V247.80M522.25 208.35H525.35M562.35 244.90V247.80M522.25 188.30H525.35M582.40 244.90V247.80M522.25 168.25H525.35M602.45 244.90V247.80M522.25 148.20H525.35M622.50 244.90V247.80" stroke="#1a1a1a" stroke-width="0.9" fill="none"/>
<text x="530.90" y="144.60" class="cal" font-size="12" fill="#fff" textLength="57.20" lengthAdjust="spacingAndGlyphs">(g) 5FWHM</text>
<text x="271.5" y="26.10" class="cal" font-size="10.3" text-anchor="end" textLength="20.89" lengthAdjust="spacingAndGlyphs">1585</text>
<text x="271.5" y="66.20" class="cal" font-size="10.3" text-anchor="end" textLength="20.89" lengthAdjust="spacingAndGlyphs">1584</text>
<text x="271.5" y="106.30" class="cal" font-size="10.3" text-anchor="end" textLength="20.89" lengthAdjust="spacingAndGlyphs">1583</text>
<text transform="translate(248.3 64.45) rotate(-90)" class="cal" font-size="10.6" text-anchor="middle" textLength="105.5" lengthAdjust="spacingAndGlyphs">Signal2 wavelength (nm)</text>
<text x="271.5" y="151.60" class="cal" font-size="10.3" text-anchor="end" textLength="20.89" lengthAdjust="spacingAndGlyphs">1585</text>
<text x="271.5" y="191.70" class="cal" font-size="10.3" text-anchor="end" textLength="20.89" lengthAdjust="spacingAndGlyphs">1584</text>
<text x="271.5" y="231.80" class="cal" font-size="10.3" text-anchor="end" textLength="20.89" lengthAdjust="spacingAndGlyphs">1583</text>
<text transform="translate(248.3 190.50) rotate(-90)" class="cal" font-size="10.6" text-anchor="middle" textLength="105.5" lengthAdjust="spacingAndGlyphs">Signal2 wavelength (nm)</text>
<text x="293.80" y="257.8" class="cal" font-size="10.3" text-anchor="middle" textLength="20.89" lengthAdjust="spacingAndGlyphs">1583</text>
<text x="333.90" y="257.8" class="cal" font-size="10.3" text-anchor="middle" textLength="20.89" lengthAdjust="spacingAndGlyphs">1584</text>
<text x="374.00" y="257.8" class="cal" font-size="10.3" text-anchor="middle" textLength="20.89" lengthAdjust="spacingAndGlyphs">1585</text>
<text x="334.90" y="269.8" class="cal" font-size="10.6" text-anchor="middle" textLength="105" lengthAdjust="spacingAndGlyphs">Signal1 wavelength (nm)</text>
<text x="417.90" y="257.8" class="cal" font-size="10.3" text-anchor="middle" textLength="20.89" lengthAdjust="spacingAndGlyphs">1583</text>
<text x="458.00" y="257.8" class="cal" font-size="10.3" text-anchor="middle" textLength="20.89" lengthAdjust="spacingAndGlyphs">1584</text>
<text x="498.10" y="257.8" class="cal" font-size="10.3" text-anchor="middle" textLength="20.89" lengthAdjust="spacingAndGlyphs">1585</text>
<text x="459.57" y="269.8" class="cal" font-size="10.6" text-anchor="middle" textLength="105" lengthAdjust="spacingAndGlyphs">Signal1 wavelength (nm)</text>
<text x="541.70" y="257.8" class="cal" font-size="10.3" text-anchor="middle" textLength="20.89" lengthAdjust="spacingAndGlyphs">1583</text>
<text x="581.80" y="257.8" class="cal" font-size="10.3" text-anchor="middle" textLength="20.89" lengthAdjust="spacingAndGlyphs">1584</text>
<text x="621.90" y="257.8" class="cal" font-size="10.3" text-anchor="middle" textLength="20.89" lengthAdjust="spacingAndGlyphs">1585</text>
<text x="583.42" y="269.8" class="cal" font-size="10.6" text-anchor="middle" textLength="105" lengthAdjust="spacingAndGlyphs">Signal1 wavelength (nm)</text>
<rect x="651.2" y="70.3" width="11.5" height="112.90" fill="url(#cbar)"/>
<text x="663.8" y="188.00" class="cal" font-size="11.2" textLength="5.67" lengthAdjust="spacingAndGlyphs">0</text>
<text x="663.8" y="165.58" class="cal" font-size="11.2" textLength="14.17" lengthAdjust="spacingAndGlyphs">0.2</text>
<text x="663.8" y="143.16" class="cal" font-size="11.2" textLength="14.17" lengthAdjust="spacingAndGlyphs">0.4</text>
<text x="663.8" y="120.74" class="cal" font-size="11.2" textLength="14.17" lengthAdjust="spacingAndGlyphs">0.6</text>
<text x="663.8" y="98.32" class="cal" font-size="11.2" textLength="14.17" lengthAdjust="spacingAndGlyphs">0.8</text>
<text x="663.8" y="75.90" class="cal" font-size="11.2" textLength="5.67" lengthAdjust="spacingAndGlyphs">1</text>
<path d="M661.20 160.78H662.70M661.20 138.36H662.70M661.20 115.94H662.70M661.20 93.52H662.70" stroke="#333" stroke-width="0.7"/>
</svg>
</body></html>
